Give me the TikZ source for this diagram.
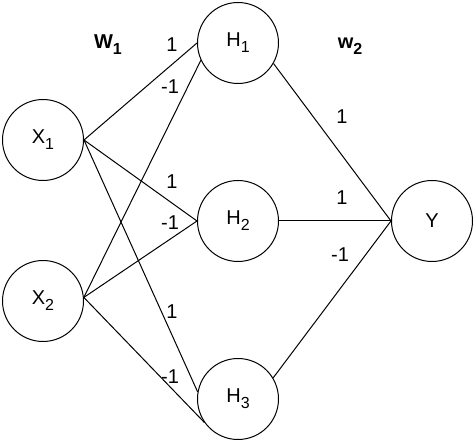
\documentclass[tikz,border=0pt]{standalone}
\usepackage{fontspec}
\setmainfont{Liberation Sans}
\newcommand{\mysub}[1]{\raisebox{-0.3em}{\fontsize{16}{18}\selectfont #1}}
\begin{document}
\begin{tikzpicture}[x=1pt,y=-1pt,
  neuron/.style={draw,circle,minimum size=81pt,inner sep=0pt,line width=1pt,font=\fontsize{20}{22}\selectfont},
  wlabel/.style={font=\fontsize{20}{22}\selectfont,inner sep=0pt},
  hlabel/.style={font=\fontsize{20}{22}\selectfont\bfseries,inner sep=0pt},
  link/.style={line width=1pt}]
\useasboundingbox (0,0) rectangle (474,443);
\node[neuron] (x1) at (43,140) {X\mysub{1}};
\node[neuron] (x2) at (43,301) {X\mysub{2}};
\node[neuron] (h1) at (238,43) {H\mysub{1}};
\node[neuron] (h2) at (238,221) {H\mysub{2}};
\node[neuron] (h3) at (238,399) {H\mysub{3}};
\node[neuron] (y) at (432,221) {Y};
\node[hlabel] (lw1) at (108,45) {W\mysub{1}};
\node[hlabel] (lw2) at (350,46) {w\mysub{2}};
\node[wlabel] (a1) at (172,45) {1};
\node[wlabel] (a2) at (170,87) {-1};
\node[wlabel] (a3) at (172,182) {1};
\node[wlabel] (a4) at (170,223) {-1};
\node[wlabel] (a5) at (172,312) {1};
\node[wlabel] (a6) at (170,377) {-1};
\node[wlabel] (b1) at (342,117) {1};
\node[wlabel] (b2) at (342,198) {1};
\node[wlabel] (b3) at (340,255) {-1};
\draw[link] (x1.east) -- (h1.180);
\draw[link] (x1.east) -- (h2.west);
\draw[link] (x1.east) -- (h3.170);
\draw[link] (x2.5) -- (h1.205);
\draw[link] (x2.5) -- (h2.west);
\draw[link] (x2.5) -- (h3.215);
\draw[link] (h1.-30) -- (y.west);
\draw[link] (h2.east) -- (y.west);
\draw[link] (h3.31) -- (y.west);
\end{tikzpicture}
\end{document}
